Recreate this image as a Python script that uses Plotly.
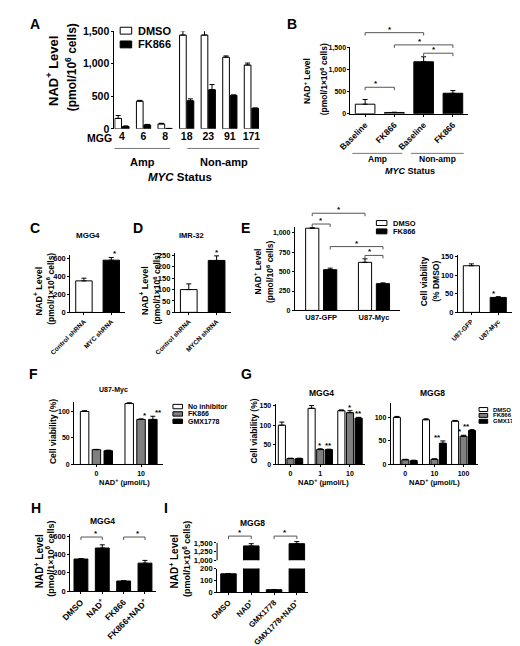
import plotly.graph_objects as go

W, H = 520, 646
FONT = "Arial, 'Liberation Sans', sans-serif"

# ---------------- data ----------------
# A: NAD+ level by MGG line
a_lines = ["4", "6", "8", "18", "23", "91", "171"]
a_dmso = [160, 425, 75, 1440, 1440, 1100, 980]
a_dmso_err = [45, 12, 10, 65, 130, 20, 30]
a_fk866 = [35, 60, 5, 430, 600, 515, 315]
a_fk866_err = [10, 8, 2, 30, 80, 5, 5]

# B: grouped by MYC status
b_labels = ["Baseline", "FK866", "Baseline", "FK866"]
b_values = [217, 30, 1175, 464]
b_err = [106, 5, 112, 61]
b_fill = ["white", "white", "black", "black"]

# C / D: shRNA knockdown
c_labels = ["Control shRNA", "MYC shRNA"]
c_values = [350, 580]
c_err = [30, 30]
d_labels = ["Control shRNA", "MYCN shRNA"]
d_values = [100, 228]
d_err = [25, 20]

# E: U87 lines
e_lines = ["U87-GFP", "U87-Myc"]
e_dmso = [1060, 620]
e_dmso_err = [5, 45]
e_fk866 = [525, 345]
e_fk866_err = [20, 10]
e_viab = [125, 40]
e_viab_err = [5, 2]

# F: U87-Myc viability
f_nad = ["0", "10"]
f_none = [100, 115]
f_none_err = [1.5, 1.5]
f_fk866 = [28, 85]
f_fk866_err = [0.5, 1]
f_gmx = [26, 85]
f_gmx_err = [1, 6]

# G: MGG4 / MGG8 viability
g4_nad = ["0", "1", "10"]
g4_dmso = [100, 143, 137]
g4_dmso_err = [8, 7, 2]
g4_fk866 = [15, 38, 132]
g4_fk866_err = [1, 2, 5]
g4_gmx = [15, 38, 118]
g4_gmx_err = [1, 1, 2]
g8_nad = ["0", "10", "100"]
g8_dmso = [100, 95, 92]
g8_dmso_err = [2, 2, 1.5]
g8_fk866 = [10, 11, 60]
g8_fk866_err = [1, 1, 2]
g8_gmx = [8, 45, 72]
g8_gmx_err = [1, 5, 2]

# H / I: NAD+ rescue
h_labels = ["DMSO", "NAD<sup>+</sup>", "FK866", "FK866+NAD<sup>+</sup>"]
h_values = [350, 470, 110, 305]
h_err = [5, 35, 3, 30]
i_labels = ["DMSO", "NAD<sup>+</sup>", "GMX1778", "GMX1778+NAD<sup>+</sup>"]
i_values = [155, 1415, 20, 1480]
i_err = [3, 65, 2, 60]

GRAY = "#7f7f7f"

# ---------------- helpers ----------------
fig = go.Figure()
axes = {}
shapes = []
annos = []
n_ax = [0]


def tfont(size, bold=True):
    d = dict(family=FONT, size=size, color="black")
    if bold:
        d["weight"] = "bold"
    return d


def panel(x0, x1, xr, ybot, ppu, yr, yticks, xtext=None, tsize=8, xsize=None,
          xangle=0, xline=True, xmarks=True, xvis=True, yline=True):
    n_ax[0] += 1
    s = "" if n_ax[0] == 1 else str(n_ax[0])
    ytop = ybot - (yr[1] - yr[0]) * ppu
    axes["xaxis" + s] = dict(
        domain=[x0 / W, x1 / W], range=xr, anchor="y" + s, visible=xvis,
        showline=xline, linecolor="black", linewidth=1,
        ticks="outside" if xmarks else "", ticklen=2, tickcolor="black",
        tickvals=list(range(len(xtext))) if xtext else None, ticktext=xtext,
        tickangle=xangle, tickfont=tfont(xsize or tsize),
        showgrid=False, zeroline=False)
    axes["yaxis" + s] = dict(
        domain=[1 - ybot / H, 1 - ytop / H], range=yr, anchor="x" + s,
        showline=yline, linecolor="black", linewidth=1, ticks="outside",
        ticklen=2, tickcolor="black", tickvals=yticks, tickformat=",",
        tickfont=tfont(tsize), showgrid=False, zeroline=False)
    return dict(xa="x" + s, ya="y" + s, x0=x0,
                X=lambda v: (x0 + (v - xr[0]) / (xr[1] - xr[0]) * (x1 - x0)) / W,
                Y=lambda v: ybot - (v - yr[0]) * ppu)


def bars(p, ys, err, fill, width, offset=None, clip=False):
    fig.add_trace(go.Bar(
        x=list(range(len(ys))), y=ys, xaxis=p["xa"], yaxis=p["ya"],
        width=width, offset=offset, showlegend=False,
        marker=dict(color=fill, line=dict(color="black", width=1)),
        error_y=dict(type="data", symmetric=False, array=err,
                     arrayminus=[0] * len(err), color="black",
                     thickness=1, width=2.5),
        cliponaxis=clip))


def group_offsets(k, w, g):
    total = k * w + (k - 1) * g
    return [-total / 2 + j * (w + g) for j in range(k)]


def text(x, y, s, size=10, bold=True, angle=0, xanchor="center", yanchor="middle"):
    annos.append(dict(x=x / W, y=1 - y / H, xref="paper", yref="paper", text=s,
                      showarrow=False, font=tfont(size, bold), textangle=angle,
                      xanchor=xanchor, yanchor=yanchor))


def line(x0, x1, y0, y1=None, color="#777"):
    y1 = y0 if y1 is None else y1
    shapes.append(dict(type="line", xref="paper", yref="paper", x0=x0 / W,
                       x1=x1 / W, y0=1 - y0 / H, y1=1 - y1 / H,
                       line=dict(color=color, width=1)))


def bracket(p, xa, xb, level, s="*", drop=3, size=8):
    xa, xb = p["X"](xa), p["X"](xb)
    yl = p["Y"](level)
    y0, y1 = 1 - (yl + drop) / H, 1 - yl / H
    shapes.append(dict(type="path", xref="paper", yref="paper",
                       path=f"M {xa},{y0} L {xa},{y1} L {xb},{y1} L {xb},{y0}",
                       line=dict(color="#555", width=1)))
    annos.append(dict(x=(xa + xb) / 2, y=1 - (yl + 3) / H, xref="paper",
                      yref="paper", text=s, showarrow=False, font=tfont(size),
                      yanchor="bottom"))


def star(p, xv, top, s="*", size=8):
    annos.append(dict(x=p["X"](xv), y=1 - (p["Y"](top) + 3) / H, xref="paper",
                      yref="paper", text=s, showarrow=False, font=tfont(size),
                      yanchor="bottom"))


def legend(x, y, step, bw, bh, names, fills, size, gap=4):
    for k, (nm, fc) in enumerate(zip(names, fills)):
        yc = y + k * step
        shapes.append(dict(type="rect", xref="paper", yref="paper",
                           x0=x / W, x1=(x + bw) / W,
                           y0=1 - (yc - bh / 2) / H, y1=1 - (yc + bh / 2) / H,
                           fillcolor=fc, line=dict(color="black", width=1)))
        text(x + bw + gap, yc, nm, size, xanchor="left")


# ---------------- A ----------------
pa = panel(89, 243, [-0.35, 6.5], 117, 99.5 / 1500, [0, 1500],
           [0, 500, 1000, 1500], xtext=a_lines, tsize=10.5, xline=False,
           xmarks=False)
wA, gA = 0.31, 0.04
offA = group_offsets(2, wA, gA)
bars(pa, a_dmso, a_dmso_err, "white", wA, offA[0])
bars(pa, a_fk866, a_fk866_err, "black", wA, offA[1])
legend(95, 17, 14, 12, 7, ["DMSO", "FK866"], ["white", "black"], 11)
text(73, 126, "MGG", 10.5)
line(89, 147, 137)
line(165, 240, 137)
text(118, 151, "Amp", 11)
text(203, 151, "Non-amp", 11)
text(157, 166, "<i>MYC</i> Status", 11.5)
text(24, 58, "NAD<sup>+</sup> Level", 13, angle=-90)
text(44, 54, "(pmol/10<sup>6</sup> cells)", 12, angle=-90)

# ---------------- B ----------------
pb = panel(335, 457, [-0.5, 3.5], 101.7, 67.7 / 1500, [0, 1500],
           [0, 500, 1000, 1500], xtext=b_labels, tsize=7, xsize=8.5,
           xangle=-45)
bars(pb, b_values, b_err, b_fill, 0.67)
bracket(pb, 0, 2, 1832)
bracket(pb, 1, 3, 1556)
bracket(pb, 2, 3, 1368)
bracket(pb, 0, 1, 599)
line(337, 389, 142)
line(398, 453, 142)
text(363, 148, "Amp", 8.5)
text(426, 148, "Non-amp", 8.5)
text(397, 160, "<i>MYC</i> Status", 9)
text(290, 68, "NAD<sup>+</sup> Level", 8.5, angle=-90)
text(308, 67, "(pmol/1×10<sup>6</sup> cells)", 8.5, angle=-90)

# ---------------- C ----------------
pc = panel(43, 100, [-0.5, 1.5], 304, 55 / 600, [0, 640], [0, 200, 400, 600],
           xtext=c_labels, tsize=7.5, xsize=6.5, xangle=-45)
bars(pc, c_values, c_err, ["white", "black"], 0.6)
star(pc, 1, c_values[1] + c_err[1])
text(61, 226, "MGG4", 8)
text(9, 282, "NAD<sup>+</sup> Level", 9, angle=-90)
text(23, 280, "(pmol/1×10<sup>6</sup> cells)", 8.5, angle=-90)

# ---------------- D ----------------
pd_ = panel(152, 210, [-0.5, 1.5], 304, 58 / 250, [0, 262],
            [0, 50, 100, 150, 200, 250], xtext=d_labels, tsize=7.5,
            xsize=6.5, xangle=-45)
bars(pd_, d_values, d_err, ["white", "black"], 0.6)
star(pd_, 1, d_values[1] + d_err[1])
text(169, 226, "IMR-32", 7.5)
text(120, 282, "NAD<sup>+</sup> Level", 9, angle=-90)
text(134, 280, "(pmol/1×10<sup>6</sup> cells)", 8.5, angle=-90)

# ---------------- E ----------------
pe = panel(277, 387, [-0.5, 1.5], 302, 0.079, [0, 1080],
           [0, 250, 500, 750, 1000], xtext=e_lines, tsize=7, xsize=7.5,
           xmarks=False)
wE, gE = 0.25, 0.09
offE = group_offsets(2, wE, gE)
bars(pe, e_dmso, e_dmso_err, "white", wE, offE[0])
bars(pe, e_fk866, e_fk866_err, "black", wE, offE[1])
cE = [[i + o + wE / 2 for o in offE] for i in range(2)]
bracket(pe, cE[0][0], cE[1][0], 1253)
bracket(pe, cE[0][0], cE[0][1], 1114)
bracket(pe, cE[0][1], cE[1][1], 823)
bracket(pe, cE[1][0], cE[1][1], 709)
legend(362, 213, 8.5, 11, 5, ["DMSO", "FK866"], ["white", "black"], 7.5)
text(238, 262, "NAD<sup>+</sup> Level", 8.5, angle=-90)
text(251, 262, "(pmol/10<sup>6</sup> cells)", 8.5, angle=-90)

pe2 = panel(447, 503, [-0.5, 1.5], 304, 57 / 150, [0, 155], [0, 50, 100, 150],
            xtext=e_lines, tsize=7.5, xsize=6.5, xangle=-45)
bars(pe2, e_viab, e_viab_err, ["white", "black"], 0.6)
star(pe2, 1, e_viab[1] + e_viab_err[1])
text(412, 272, "Cell viability", 8.5, angle=-90)
text(424, 272, "(% DMSO)", 8.5, angle=-90)

# ---------------- F ----------------
pf = panel(47, 140, [-0.5, 1.5], 459, 0.54, [0, 118], [0, 50, 100],
           xtext=f_nad, tsize=7)
wF, gF = 0.19, 0.075
offF = group_offsets(3, wF, gF)
bars(pf, f_none, f_none_err, "white", wF, offF[0])
bars(pf, f_fk866, f_fk866_err, GRAY, wF, offF[1])
bars(pf, f_gmx, f_gmx_err, "black", wF, offF[2])
star(pf, 1 + offF[1] + wF / 2, f_fk866[1] + f_fk866_err[1])
star(pf, 1 + offF[2] + wF / 2, f_gmx[1] + f_gmx_err[1], "**")
legend(150, 400, 7.5, 10, 4.5, ["No inhibitor", "FK866", "GMX1778"],
       ["white", GRAY, "black"], 7)
text(88, 383, "U87-Myc", 7)
text(25, 425, "Cell viability (%)", 8.5, angle=-90)
text(100, 477, "NAD<sup>+</sup> (µmol/L)", 7.5)

# ---------------- G ----------------
wG, gG = 0.24, 0.05
offG = group_offsets(3, wG, gG)
pg4 = panel(257, 350, [-0.5, 2.5], 459, 0.4, [0, 155], [0, 50, 100, 150],
            xtext=g4_nad, tsize=7)
bars(pg4, g4_dmso, g4_dmso_err, "white", wG, offG[0])
bars(pg4, g4_fk866, g4_fk866_err, GRAY, wG, offG[1])
bars(pg4, g4_gmx, g4_gmx_err, "black", wG, offG[2])
for i in (1, 2):
    star(pg4, i + offG[1] + wG / 2, g4_fk866[i] + g4_fk866_err[i])
    star(pg4, i + offG[2] + wG / 2, g4_gmx[i] + g4_gmx_err[i], "**")
text(305, 386, "MGG4", 8.5)
text(235, 425, "Cell viability (%)", 8.5, angle=-90)
text(307, 477, "NAD<sup>+</sup> (µmol/L)", 7.5)

pg8 = panel(377, 468, [-0.5, 2.5], 459, 0.48, [0, 130], [0, 50, 100],
            xtext=g8_nad, tsize=7)
bars(pg8, g8_dmso, g8_dmso_err, "white", wG, offG[0])
bars(pg8, g8_fk866, g8_fk866_err, GRAY, wG, offG[1])
bars(pg8, g8_gmx, g8_gmx_err, "black", wG, offG[2])
star(pg8, 1 + offG[2] + wG / 2, g8_gmx[1] + g8_gmx_err[1], "**")
star(pg8, 2 + offG[1] + wG / 2, g8_fk866[2] + g8_fk866_err[2])
star(pg8, 2 + offG[2] + wG / 2, g8_gmx[2] + g8_gmx_err[2], "**")
legend(469, 403, 6, 9, 4, ["DMSO", "FK866", "GMX1778"],
       ["white", GRAY, "black"], 6, gap=3)
text(420, 386, "MGG8", 8.5)
text(423, 477, "NAD<sup>+</sup> (µmol/L)", 7.5)

# ---------------- H ----------------
ph = panel(43, 132, [-0.5, 3.5], 588, 56 / 600, [0, 620], [0, 200, 400, 600],
           xtext=h_labels, tsize=7.5, xsize=8.5, xangle=-45)
bars(ph, h_values, h_err, "black", 0.65)
bracket(ph, 0, 1, 590)
bracket(ph, 2, 3, 590)
text(77, 517, "MGG4", 8.5)
text(10, 558, "NAD<sup>+</sup> Level", 10, angle=-90)
text(22, 555, "(pmol/1×10<sup>6</sup> cells)", 9, angle=-90)

# ---------------- I (broken axis) ----------------
pi_lo = panel(196, 291, [-0.5, 3.5], 589, 0.12, [0, 200], [0, 100, 200],
              xtext=i_labels, tsize=7.5, xsize=7.8, xangle=-45)
bars(pi_lo, i_values, i_err, "black", 0.68, clip=True)
pi_hi = panel(196, 291, [-0.5, 3.5], 556.7, 0.0354, [1000, 1650],
              [1000, 1250, 1500], xtext=i_labels, tsize=7.5, xvis=False,
              yline=False)
bars(pi_hi, i_values, i_err, "black", 0.68, clip=True)
line(196, 196, pi_hi["Y"](1000), pi_hi["Y"](1500), color="black")
bracket(pi_hi, 0, 1, 1698)
bracket(pi_hi, 2, 3, 1698)
text(233, 519, "MGG8", 8.5)
text(151, 558, "NAD<sup>+</sup> Level", 10, angle=-90)
text(164, 555, "(pmol/1×10<sup>6</sup> cells)", 9, angle=-90)

# ---------------- panel letters ----------------
for letter, lx, ly in [("A", 6, 10), ("B", 274, 10), ("C", 6, 218),
                       ("D", 114, 218), ("E", 226, 218), ("F", 5, 367),
                       ("G", 227, 367), ("H", 7, 503), ("I", 143, 503)]:
    text(lx, ly, letter, 14)

fig.update_layout(
    width=W, height=H, margin=dict(l=0, r=0, t=0, b=0),
    paper_bgcolor="white", plot_bgcolor="white", barmode="overlay",
    showlegend=False, font=dict(family=FONT, color="black"),
    shapes=shapes, annotations=annos, **axes)

fig.write_html("out.html")
